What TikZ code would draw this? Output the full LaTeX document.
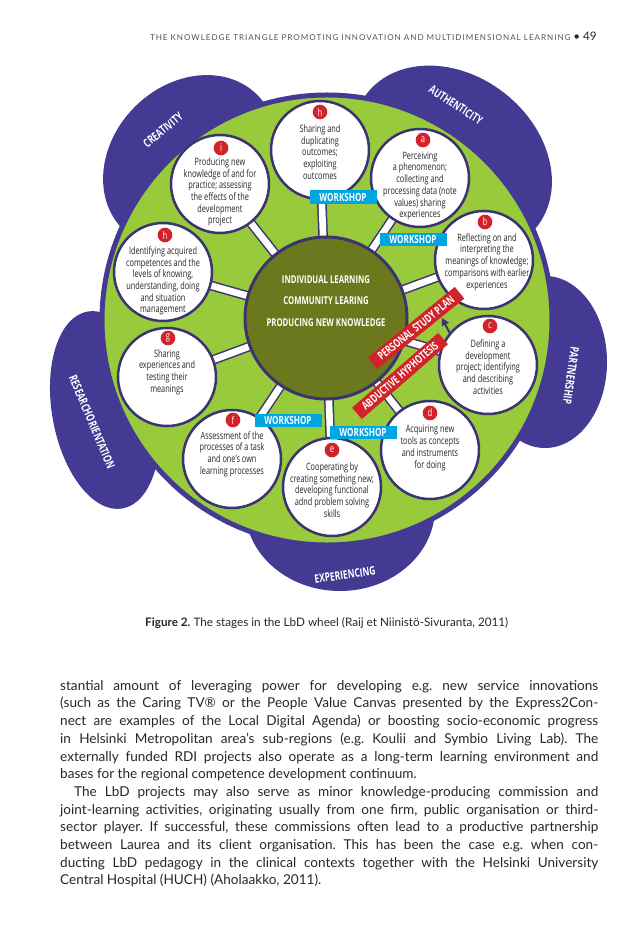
\documentclass[tikz,border=0pt]{standalone}
\usepackage{fontspec}
\setmainfont{Lato}
\newfontfamily\cnd[FakeStretch=0.72]{Open Sans}
\newfontfamily\hdrfont[LetterSpace=12]{Lato}
\usetikzlibrary{arrows.meta}
\definecolor{pur}{RGB}{68,58,148}
\definecolor{bline}{RGB}{58,52,112}
\definecolor{grn}{RGB}{152,202,60}
\definecolor{oliv}{RGB}{108,120,30}
\definecolor{bred}{RGB}{210,35,42}
\definecolor{wscyan}{RGB}{0,166,226}
\definecolor{bodygray}{RGB}{40,40,40}
\definecolor{hdrgray}{RGB}{85,85,85}
\pgfdeclarelayer{bg}
\pgfdeclarelayer{mid}
\pgfsetlayers{bg,mid,main}
\newlength\bw \setlength\bw{16.14cm}
\newcommand\jl[1]{\makebox[\bw][s]{#1}}
\frenchspacing
\begin{document}
\begin{tikzpicture}[x=0.03cm,y=-0.03cm,
  bubble/.style={circle, draw=bline, line width=0.075cm, fill=white, minimum size=2.94cm, inner sep=0pt},
  btxt/.style={font=\cnd\fontsize{8.7}{10}\selectfont, align=center, text=black!85, inner sep=0pt},
  badge/.style={circle, fill=bred, minimum size=0.44cm, inner sep=0pt, text=white, font=\cnd\fontsize{9}{9}\selectfont},
  ws/.style={fill=wscyan, minimum width=2.01cm, minimum height=0.39cm, inner sep=0pt, text=white, font=\cnd\bfseries\fontsize{9.6}{9}\selectfont},
  banner/.style={fill=bred, minimum height=0.45cm, inner sep=0pt, text=white, font=\cnd\bfseries\fontsize{9.6}{9}\selectfont},
  lobetxt/.style={text=white, font=\cnd\bfseries\fontsize{10}{10}\selectfont, inner sep=0pt},
  spoke/.style={draw=bline, line width=0.045cm, double=white, double distance=0.2cm},
]
\useasboundingbox (0,0) rectangle (638,933);

% ---------- lobes and wheel ----------
\begin{pgfonlayer}{bg}
\fill[white] (0,0) rectangle (638,933);
\fill[pur, rotate around={45:(190,162)}] (190,162) ellipse [x radius=2.85cm, y radius=2.34cm];
\fill[pur, rotate around={-38:(452,160)}] (452,160) ellipse [x radius=3.24cm, y radius=2.55cm];
\fill[pur] (545,362) ellipse [x radius=1.86cm, y radius=2.58cm];
\fill[pur, rotate around={10:(105,410)}] (105,410) ellipse [x radius=1.59cm, y radius=3cm];
\fill[pur] (340,508) ellipse [x radius=2.85cm, y radius=2.49cm];
\filldraw[fill=grn, draw=pur, line width=0.15cm] (327,320) circle [radius=6.75cm];
\end{pgfonlayer}

% ---------- centre ----------
\node[circle, fill=oliv, draw=bline, line width=0.09cm, minimum size=4.86cm, inner sep=0pt] (cen) at (326,318) {};
\node[align=center, text=white, inner sep=0pt, font=\cnd\bfseries\fontsize{9.2}{18.4}\selectfont] (ct) at (326,301)
  {INDIVIDUAL LEARNING\\COMMUNITY LEARING\\PRODUCING NEW KNOWLEDGE};

% ---------- bubbles ----------
\node[bubble] (htop) at (320,150) {};
\node[bubble] (a) at (420,178) {};
\node[bubble] (b) at (484,260) {};
\node[bubble] (c) at (488,365) {};
\node[bubble] (d) at (430,450) {};
\node[bubble] (e) at (332,487) {};
\node[bubble] (f) at (232,459) {};
\node[bubble] (g) at (167,377) {};
\node[bubble] (hl) at (163,272) {};
\node[bubble] (i) at (220,184) {};

% spokes
\begin{pgfonlayer}{mid}
\foreach \n in {htop,a,b,c,d,e,f,g,hl,i}{\draw[spoke] (cen.center) -- (\n.center);}
\end{pgfonlayer}

% badges
\node[badge] (bh1) at (320,112) {h};
\node[badge] (ba) at (423,140) {a};
\node[badge] (bb) at (485,222) {b};
\node[badge] (bc) at (490,326) {c};
\node[badge] (bd) at (430,413) {d};
\node[badge] (be) at (332,450) {e};
\node[badge] (bf) at (233,420) {f};
\node[badge] (bg) at (168,338) {g};
\node[badge] (bh2) at (165,235) {h};
\node[badge] (bi) at (221,148) {i};

% bubble texts
\node[btxt] (th1) at (320,152) {Sharing and\\duplicating\\outcomes;\\exploiting\\outcomes};
\node[btxt] (ta) at (420,186) {Perceiving\\a phenomenon;\\collecting and\\processing data (note\\values) sharing\\experiences};
\node[btxt] (tb) at (487,262) {Reflecting on and\\interpreting the\\meanings of knowledge;\\comparisons with earlier\\experiences};
\node[btxt] (tc) at (488,367) {Defining a\\development\\project; identifying\\and describing\\activities};
\node[btxt] (td) at (430,448) {Acquiring new\\tools as concepts\\and instruments\\for doing};
\node[btxt] (te) at (332,490) {Cooperating by\\creating something new;\\developing functional\\adnd problem solving\\skills};
\node[btxt] (tf) at (232,454) {Assessment of the\\processes of a task\\and one’s own\\learning processes};
\node[btxt] (tg) at (167,372) {Sharing\\experiences and\\testing their\\meanings};
\node[btxt] (th2) at (163,281) {Identifying acquired\\competences and the\\levels of knowing,\\understanding, doing\\and situation\\management};
\node[btxt] (ti) at (220,192) {Producing new\\knowledge of and for\\practice; assessing\\the effects of the\\development\\project};

% workshops
\node[ws] (ws1) at (343,197) {WORKSHOP};
\node[ws] (ws2) at (413,239) {WORKSHOP};
\node[ws] (ws3) at (288,420) {WORKSHOP};
\node[ws] (ws4) at (363,432) {WORKSHOP};

% banners and arrow
\node[banner, minimum width=3.36cm, rotate=39] (psp) at (416,328) {PERSONAL STUDY PLAN};
\node[banner, minimum width=3.42cm, rotate=41] (abd) at (400,376) {ABDUCTIVE HYPHOTESIS};
\coordinate (arrE) at (442,318);
\draw[bline, line width=0.06cm, -{Triangle[length=0.22cm,width=0.22cm]}] (c.140) -- (arrE);

% lobe labels
\node[lobetxt, rotate=39] (lcre) at (163,130) {CREATIVITY};
\node[lobetxt, rotate=-33] (laut) at (456,105) {AUTHENTICITY};
\node[lobetxt, rotate=-98] (lpar) at (571,376) {PARTNERSHIP};
\node[lobetxt, rotate=-67] (lres) at (92,422) {RESEARCHORIENTATION};
\node[lobetxt, rotate=8] (lexp) at (345,575) {EXPERIENCING};

% ---------- page text ----------
\node[anchor=base east, inner sep=0pt, text=hdrgray] (hdr) at (597,41)
  {{\hdrfont\fontsize{6.9}{8}\selectfont THE KNOWLEDGE TRIANGLE PROMOTING INNOVATION AND MULTIDIMENSIONAL LEARNING}\ {\fontsize{10}{12}\selectfont\color{bodygray}\textbullet\ 49}};

\node[anchor=base west, inner sep=0pt, font=\fontsize{10}{11}\selectfont, text=bodygray] (cap) at (145,626)
  {\textbf{Figure 2.} The stages in the LbD wheel (Raij et Niinistö-Sivuranta, 2011)};

\node[anchor=north west, inner sep=0pt, align=left, font=\fontsize{11.6}{15.1}\selectfont, text=bodygray] (body) at (60,680) {%
\jl{stantial amount of leveraging power for developing e.g. new service innovations}\\
\jl{(such as the Caring TV® or the People Value Canvas presented by the Express2Con-}\\
\jl{nect are examples of the Local Digital Agenda) or boosting socio-economic progress}\\
\jl{in Helsinki Metropolitan area’s sub-regions (e.g. Koulii and Symbio Living Lab). The}\\
\jl{externally funded RDI projects also operate as a long-term learning environment and}\\
bases for the regional competence development continuum.\\
\jl{\hspace*{0.42cm}The LbD projects may also serve as minor knowledge-producing commission and}\\
\jl{joint-learning activities, originating usually from one firm, public organisation or third-}\\
\jl{sector player. If successful, these commissions often lead to a productive partnership}\\
\jl{between Laurea and its client organisation. This has been the case e.g. when con-}\\
\jl{ducting LbD pedagogy in the clinical contexts together with the Helsinki University}\\
Central Hospital (HUCH) (Aholaakko, 2011).};
\end{tikzpicture}
\end{document}
